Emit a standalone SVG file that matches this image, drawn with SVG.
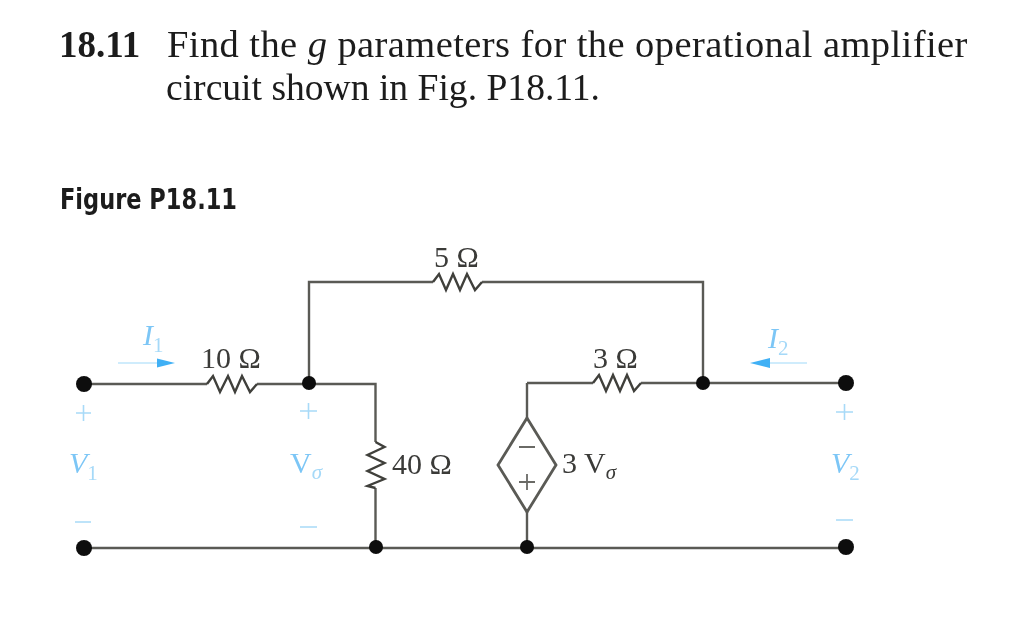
<svg xmlns="http://www.w3.org/2000/svg" width="1025" height="624" viewBox="0 0 1025 624">
<defs><filter id="soft" x="0" y="0" width="100%" height="100%"><feGaussianBlur stdDeviation="0.6"/></filter></defs>
<style>
.w{fill:none;stroke:#5a5a55;stroke-width:2.4}
.r{fill:none;stroke:#3f3f3b;stroke-width:2.4;stroke-linejoin:miter}
.d{fill:#0a0a0a}
.t{font-family:"Liberation Serif",serif;fill:#1a1a1a}
.v{font-family:"Liberation Serif",serif;font-size:30px;fill:#3a3a38}
.b{font-family:"Liberation Serif",serif;font-size:30px;fill:#7cc6f6}
.bi{font-style:italic}
.s{font-size:21px;fill:#a5d9f8}
.l{stroke:#bfe6fb;stroke-width:1.6;fill:none}
.p{stroke:#a8daf8;stroke-width:1.6;fill:none}
.a{fill:#3fb0f5}
</style>
<rect width="1025" height="624" fill="#fff"/>
<g filter="url(#soft)">
<g id="problem-text">
<text class="t" x="59" y="57" font-size="37" font-weight="bold">18.11</text>
<text class="t" x="167" y="57" font-size="38.500" letter-spacing="0.42">Find the <tspan font-style="italic">g</tspan> parameters for the operational amplifier</text>
<text class="t" x="166" y="100" font-size="37.600">circuit shown in Fig. P18.11.</text>
<text x="60" y="209" font-family="'DejaVu Sans Condensed','DejaVu Sans',sans-serif" font-weight="bold" font-size="28" fill="#1a1a1a" textLength="177" lengthAdjust="spacingAndGlyphs">Figure P18.11</text>
</g>
<g id="connectors">
<path class="w" d="M84 384H207M257 384H375.500V442M375.500 488V548M84 548H846M309 384V282H433M482 282H703V383M527 383H593M641 383H846M527 383V418M527 512V548"/>
</g>
<g id="r-10">
<path class="r" d="M207 384l6-8 7 16 8-16 7 16 7-16 8 16 7-8"/>
<text class="v" x="201" y="368">10 Ω</text>
</g>
<g id="r-5">
<path class="r" d="M433 282l6-8 7 16 7-16 7 16 7-16 8 16 7-8"/>
<text class="v" x="434" y="267">5 Ω</text>
</g>
<g id="r-3">
<path class="r" d="M593 383l6-8 7 16 7-16 7 16 7-16 7 16 7-8"/>
<text class="v" x="593" y="368">3 Ω</text>
</g>
<g id="r-40">
<path class="r" d="M375.500 442l9 5-17 8 17 8-17 8 17 8-17 7 8 2"/>
<text class="v" x="392" y="474" font-size="31">40 Ω</text>
</g>
<g id="source">
<path d="M527 418L556 465L527 512L498 465Z" fill="#fff" stroke="#5a5a55" stroke-width="2.800"/>
<path d="M519 447h16M519 482h16M527 474v16" stroke="#6a6a66" stroke-width="1.800" fill="none"/>
<text class="v" x="562" y="473">3 V<tspan font-style="italic" font-size="21" dy="6">σ</tspan></text>
</g>
<g id="junctions">
<circle class="d" cx="84" cy="384" r="8"/>
<circle class="d" cx="84" cy="548" r="8"/>
<circle class="d" cx="309" cy="383" r="7"/>
<circle class="d" cx="376" cy="547" r="7"/>
<circle class="d" cx="527" cy="547" r="7"/>
<circle class="d" cx="703" cy="383" r="7"/>
<circle class="d" cx="846" cy="383" r="8"/>
<circle class="d" cx="846" cy="547" r="8"/>
</g>
<g id="port-1">
<text class="b bi" x="143" y="345">I<tspan class="s" font-style="normal" dy="7">1</tspan></text>
<path class="l" d="M118 363H160"/>
<path class="a" d="M157 358.500L175 363L157 367.500Z"/>
<path class="p" d="M76 413H91M83.500 405V421M75 522H91"/>
<text class="b bi" x="69" y="473">V<tspan class="s" font-style="normal" dy="7">1</tspan></text>
</g>
<g id="port-v">
<path class="p" d="M300 411H317M308.500 403V419M300 527H317"/>
<text class="b" x="290" y="473">V<tspan class="s bi" dy="6">σ</tspan></text>
</g>
<g id="port-2">
<text class="b bi" x="768" y="348">I<tspan class="s" font-style="normal" dy="7">2</tspan></text>
<path class="l" d="M770 363H807"/>
<path class="a" d="M750 363L770 358V368Z"/>
<path class="p" d="M836 412H853M844.500 404V420M836 520H853"/>
<text class="b bi" x="831" y="473">V<tspan class="s" font-style="normal" dy="7">2</tspan></text>
</g>
</g>
</svg>
